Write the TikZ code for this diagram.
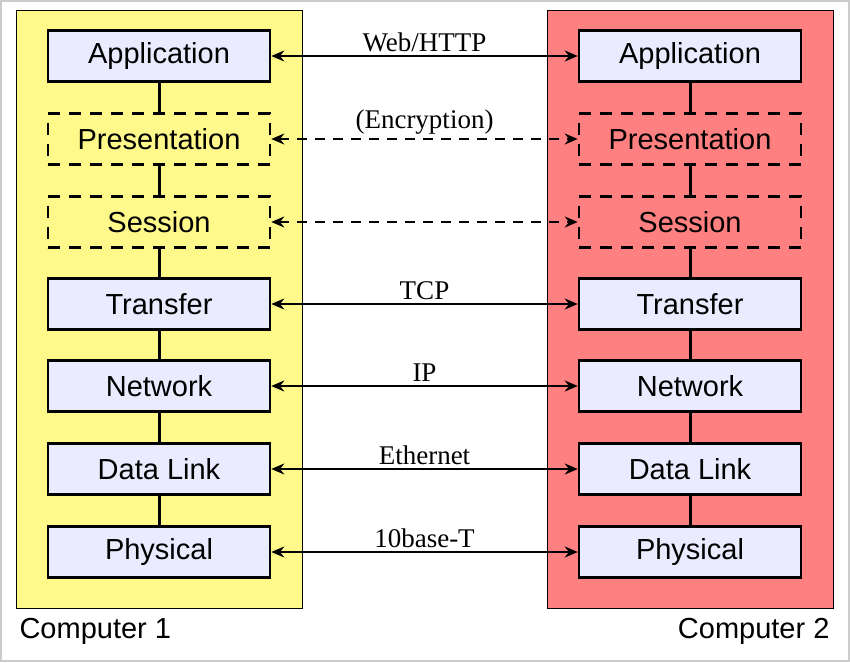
\documentclass[tikz,border=0pt]{standalone}
\usepackage{fontspec}
\setmainfont{Liberation Serif}
\newfontfamily\boxfont{Liberation Sans}
\usetikzlibrary{arrows.meta}
\tikzset{
  layer/.style = {draw=black, fill=blue!8, line width=2.5pt, minimum width=222pt,
    minimum height=51pt, inner sep=0pt, font=\boxfont\fontsize{29}{30}\selectfont},
  vlayer/.style = {layer, fill=none, dashed, dash pattern=on 12pt off 9pt},
  link/.style = {{Stealth[length=13pt,width=11pt]}-{Stealth[length=13pt,width=11pt]},
    line width=2.5pt},
  vlink/.style = {link, dash pattern=on 10pt off 8pt},
  proto/.style = {above, font=\fontsize{27}{28}\selectfont, inner sep=3pt},
  stack/.style = {line width=3pt}
}
\begin{document}
\begin{tikzpicture}[x=1pt,y=-1pt]
\useasboundingbox (0,0) rectangle (850,662);
\draw[gray!40, line width=2pt] (1,1) rectangle (849,661);
% computers
\draw[fill=yellow!45, line width=1pt] (16,10) rectangle (302,608);
\draw[fill=red!50, line width=1pt] (547,10) rectangle (833,608);
\node[anchor=west, font=\boxfont\fontsize{29}{30}\selectfont] (c1) at (16,631) {Computer 1};
\node[anchor=east, font=\boxfont\fontsize{29}{30}\selectfont] (c2) at (833,631) {Computer 2};
% layers
\foreach \n/\t/\y/\s in {app/Application/56/layer, pre/Presentation/139/vlayer,
    ses/Session/222/vlayer, tra/Transfer/304/layer, net/Network/386/layer,
    dat/Data Link/469/layer, phy/Physical/552/layer}{
  \node[\s] (l\n) at (159,\y) {\t};
  \node[\s] (r\n) at (690,\y) {\t};
}
\foreach \a/\b in {app/pre, pre/ses, ses/tra, tra/net, net/dat, dat/phy}{
  \draw[stack] (l\a) -- (l\b);
  \draw[stack] (r\a) -- (r\b);
}
% protocols
\draw[link] (lapp) -- node[proto] {Web/HTTP} (rapp);
\draw[vlink] (lpre) -- node[proto] {(Encryption)} (rpre);
\draw[vlink] (lses) -- (rses);
\draw[link] (ltra) -- node[proto] {TCP} (rtra);
\draw[link] (lnet) -- node[proto] {IP} (rnet);
\draw[link] (ldat) -- node[proto] {Ethernet} (rdat);
\draw[link] (lphy) -- node[proto] {10base-T} (rphy);
\end{tikzpicture}
\end{document}
